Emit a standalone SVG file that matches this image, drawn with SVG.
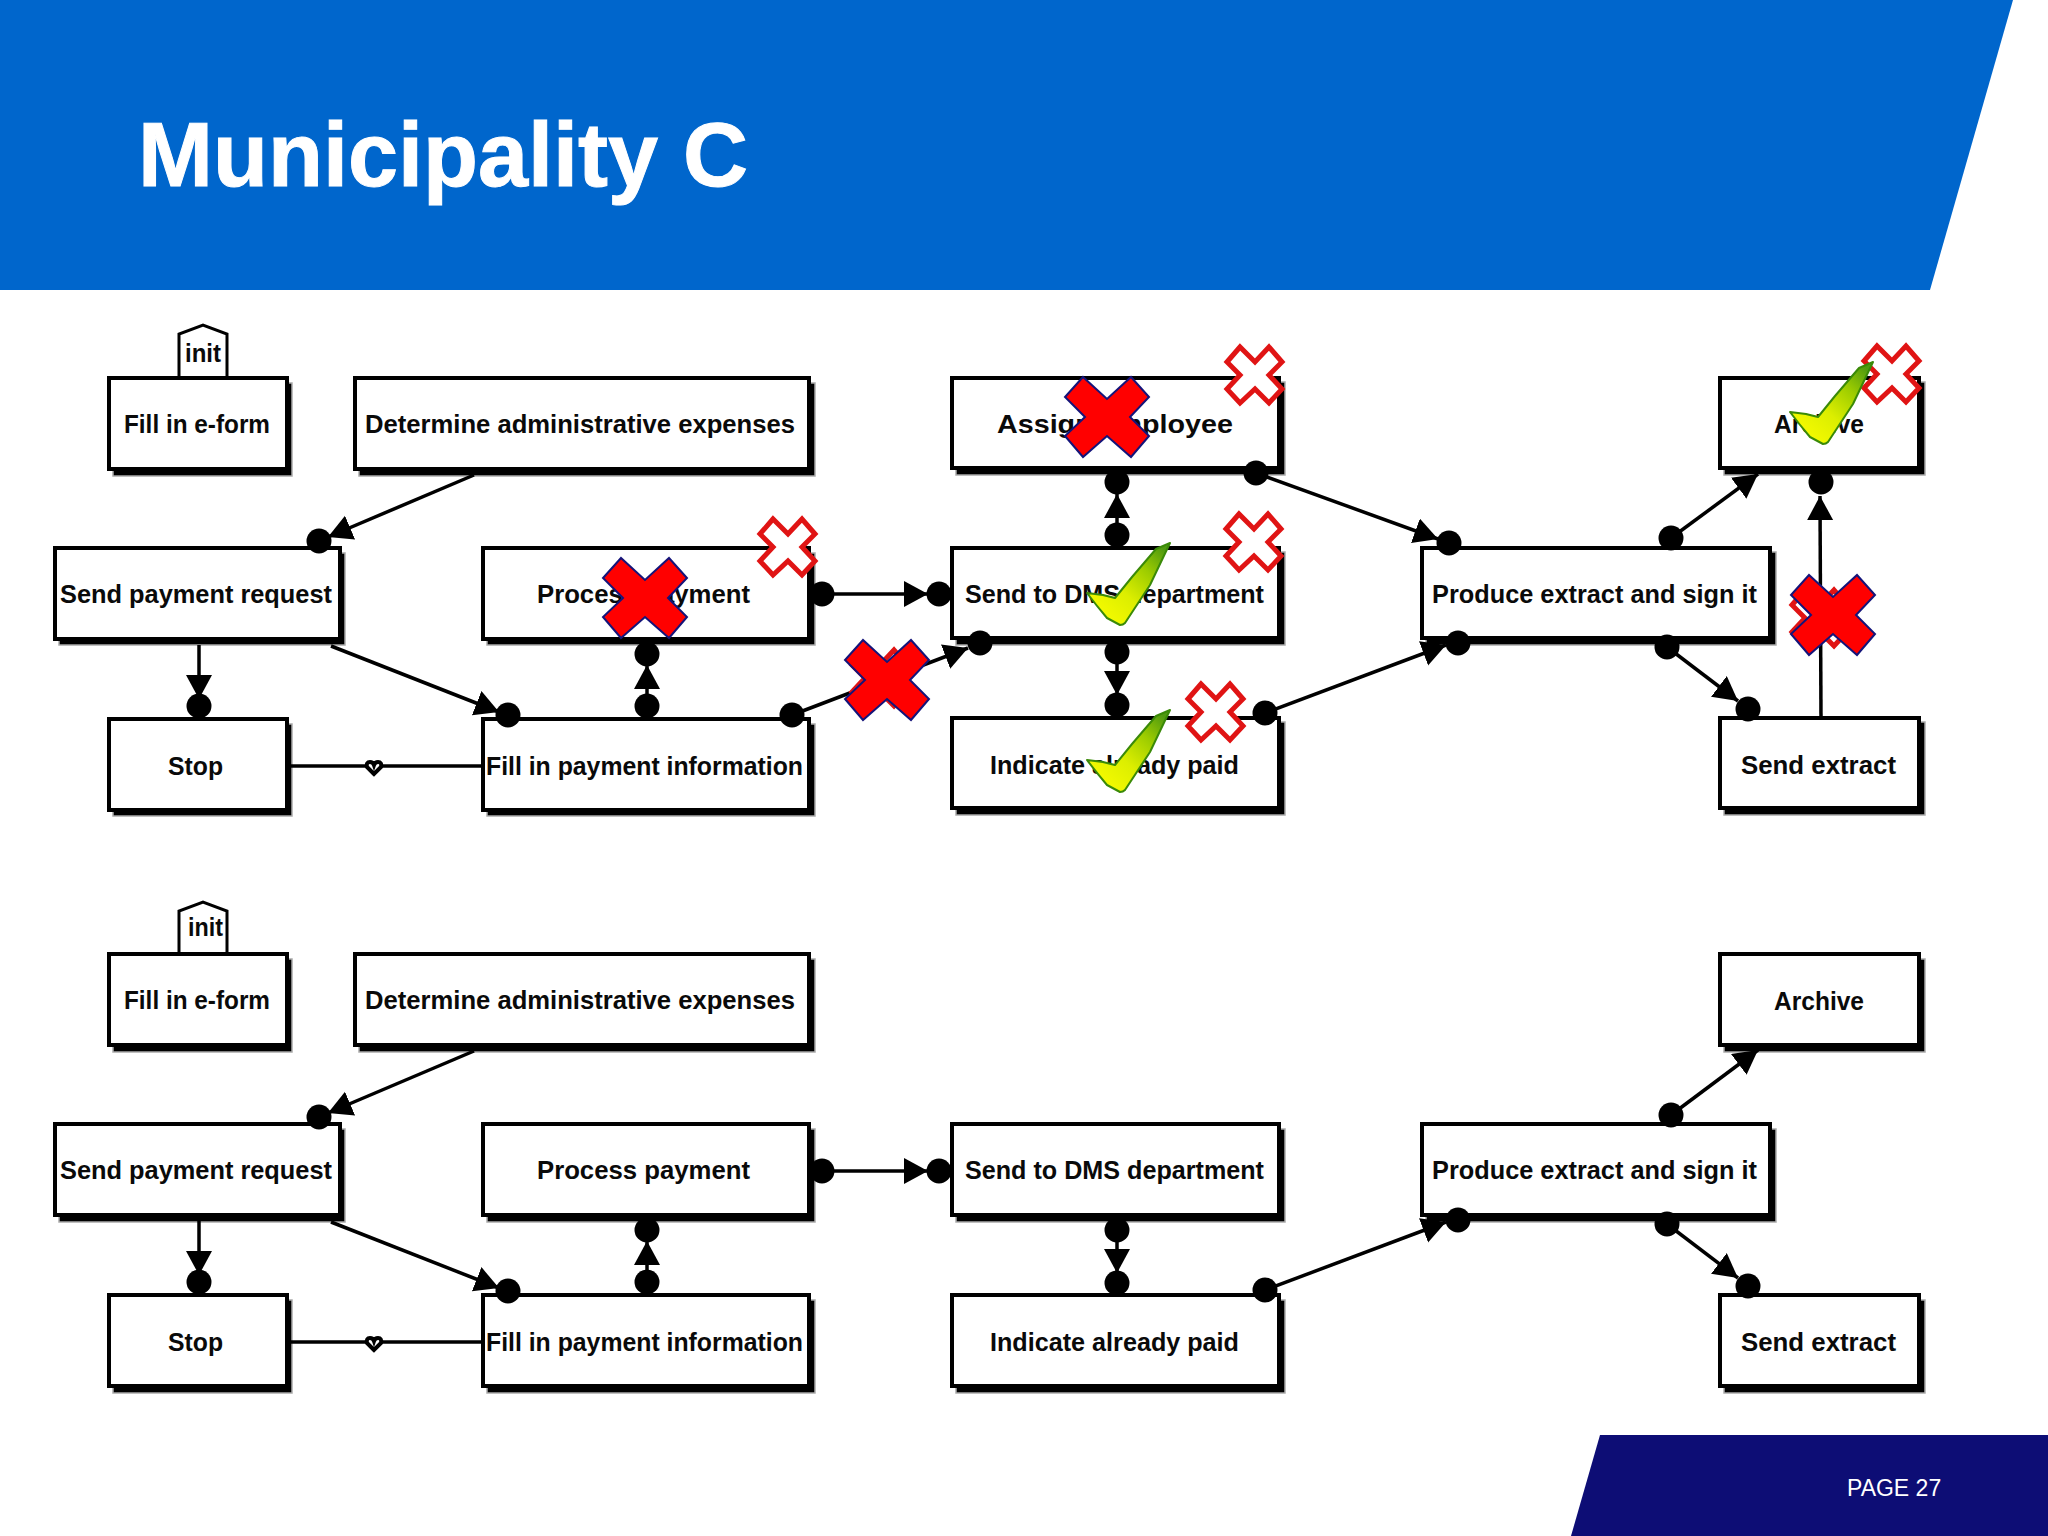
<svg xmlns="http://www.w3.org/2000/svg" xmlns:xlink="http://www.w3.org/1999/xlink" width="2048" height="1536" viewBox="0 0 2048 1536">
<style>
.box{fill:#fff;stroke:#000;stroke-width:4}
.sh{fill:#000;stroke:#aaa;stroke-width:1.5}
.lb{font-family:"Liberation Sans",Arial,sans-serif;font-weight:700;font-size:26px;fill:#0a0a0a}
.in{font-size:25px}
.tag{fill:#fff;stroke:#000;stroke-width:3}
.ln{fill:none;stroke:#000;stroke-width:3.5}
.ar{marker-end:url(#arrow)}
.dot{fill:#000}
.hrt{fill:#fff;stroke:#000;stroke-width:4}
.xr{fill:#f00;stroke:#14147a;stroke-width:2;stroke-linejoin:miter}
.xo{fill:#fff;stroke:#e01414;stroke-width:5}
</style>
<defs>
<marker id="arrow" markerUnits="userSpaceOnUse" markerWidth="26" markerHeight="28" refX="24" refY="13" orient="auto"><path d="M0,0L24,13L0,26Z" fill="#000"/></marker>
<polygon id="bigx" points="-24,-40 -42,-20 -22,0 -42,19 -24,40 0,19 24,40 42,19 23,0 42,-20 24,-40 0,-18"/>
<polygon id="holx" points="-15,-28 -28,-13 -15,0 -28,14 -15,28 0,14 14,28 27,14 14,0 27,-13 14,-28 0,-13"/>
<linearGradient id="chk" x1="0.15" y1="0.85" x2="0.9" y2="0.05"><stop offset="0" stop-color="#f4fa00"/><stop offset="0.35" stop-color="#dcee00"/><stop offset="0.7" stop-color="#9ccc00"/><stop offset="1" stop-color="#4f9a10"/></linearGradient>
<path id="tick" d="M-33,-32L-17,-30L-5,-27L12,-48L36,-76L50,-82L30,-40L5,-2Q3,0 0,0L-13,-7Q-24,-20 -33,-32Z" fill="url(#chk)" stroke="#3a8a08" stroke-width="2" stroke-linejoin="round"/>
</defs>
<rect width="2048" height="1536" fill="#fff"/>
<g id="banner">
<polygon points="0,0 2013,0 1930,290 0,290" fill="#0066cc"/>
<text x="138" y="186" font-family="'Liberation Sans',Arial,sans-serif" font-weight="700" font-size="90" fill="#fff" stroke="#fff" stroke-width="1">Municipality C</text>
</g>
<g id="footer">
<polygon points="1600,1435 2048,1435 2048,1536 1571,1536" fill="#0d0d75"/>
<text x="1847" y="1496" font-family="'Liberation Sans',Arial,sans-serif" font-size="23" fill="#fff">PAGE 27</text>
</g>

<g id="top-nodes">
<g id="t-init"><polygon class="tag" points="179,378 179,334 203,325 227,334 227,378"/><text class="lb in" x="185" y="362" textLength="36" lengthAdjust="spacingAndGlyphs">init</text></g>
<g id="t-fill-eform"><rect class="sh" x="113" y="383" width="179" height="93"/><rect class="box" x="109" y="378" width="178" height="91"/><text class="lb" x="124" y="433" textLength="146" lengthAdjust="spacingAndGlyphs">Fill in e-form</text></g>
<g id="t-determine"><rect class="sh" x="359" y="383" width="456" height="93"/><rect class="box" x="355" y="378" width="454" height="91"/><text class="lb" x="365" y="433" textLength="430" lengthAdjust="spacingAndGlyphs">Determine administrative expenses</text></g>
<g id="t-send-request"><rect class="sh" x="59" y="553" width="286" height="92"/><rect class="box" x="55" y="548" width="285" height="91"/><text class="lb" x="60" y="603" textLength="272" lengthAdjust="spacingAndGlyphs">Send payment request</text></g>
<g id="t-process"><rect class="sh" x="487" y="553" width="328" height="92"/><rect class="box" x="483" y="548" width="326" height="91"/><text class="lb" x="537" y="603" textLength="213" lengthAdjust="spacingAndGlyphs">Process payment</text></g>
<g id="t-stop"><rect class="sh" x="113" y="724" width="179" height="92"/><rect class="box" x="109" y="719" width="178" height="91"/><text class="lb" x="168" y="775" textLength="55" lengthAdjust="spacingAndGlyphs">Stop</text></g>
<g id="t-fill-payment"><rect class="sh" x="487" y="724" width="328" height="92"/><rect class="box" x="483" y="719" width="326" height="91"/><text class="lb" x="486" y="775" textLength="317" lengthAdjust="spacingAndGlyphs">Fill in payment information</text></g>
<g id="t-assign"><rect class="sh" x="956" y="382" width="329" height="93"/><rect class="box" x="952" y="378" width="327" height="90"/><text class="lb" x="997" y="433" textLength="236" lengthAdjust="spacingAndGlyphs">Assign employee</text></g>
<g id="t-dms"><rect class="sh" x="956" y="552" width="329" height="93"/><rect class="box" x="952" y="548" width="327" height="90"/><text class="lb" x="965" y="603" textLength="299" lengthAdjust="spacingAndGlyphs">Send to DMS department</text></g>
<g id="t-indicate"><rect class="sh" x="956" y="722" width="329" height="93"/><rect class="box" x="952" y="718" width="327" height="90"/><text class="lb" x="990" y="774" textLength="249" lengthAdjust="spacingAndGlyphs">Indicate already paid</text></g>
<g id="t-produce"><rect class="sh" x="1426" y="552" width="350" height="93"/><rect class="box" x="1422" y="548" width="348" height="90"/><text class="lb" x="1432" y="603" textLength="325" lengthAdjust="spacingAndGlyphs">Produce extract and sign it</text></g>
<g id="t-archive"><rect class="sh" x="1724" y="382" width="201" height="93"/><rect class="box" x="1720" y="378" width="199" height="90"/><text class="lb" x="1774" y="433" textLength="90" lengthAdjust="spacingAndGlyphs">Archive</text></g>
<g id="t-send-extract"><rect class="sh" x="1724" y="722" width="201" height="93"/><rect class="box" x="1720" y="718" width="199" height="90"/><text class="lb" x="1741" y="774" textLength="155" lengthAdjust="spacingAndGlyphs">Send extract</text></g>
</g>

<g id="bottom-nodes">
<g id="b-init"><polygon class="tag" points="179,954 179,911 203,902 227,911 227,954"/><text class="lb in" x="188" y="936" textLength="35" lengthAdjust="spacingAndGlyphs">init</text></g>
<g id="b-fill-eform"><rect class="sh" x="113" y="959" width="179" height="93"/><rect class="box" x="109" y="954" width="178" height="91"/><text class="lb" x="124" y="1009" textLength="146" lengthAdjust="spacingAndGlyphs">Fill in e-form</text></g>
<g id="b-determine"><rect class="sh" x="359" y="959" width="456" height="93"/><rect class="box" x="355" y="954" width="454" height="91"/><text class="lb" x="365" y="1009" textLength="430" lengthAdjust="spacingAndGlyphs">Determine administrative expenses</text></g>
<g id="b-send-request"><rect class="sh" x="59" y="1129" width="286" height="93"/><rect class="box" x="55" y="1124" width="285" height="91"/><text class="lb" x="60" y="1179" textLength="272" lengthAdjust="spacingAndGlyphs">Send payment request</text></g>
<g id="b-process"><rect class="sh" x="487" y="1129" width="328" height="93"/><rect class="box" x="483" y="1124" width="326" height="91"/><text class="lb" x="537" y="1179" textLength="213" lengthAdjust="spacingAndGlyphs">Process payment</text></g>
<g id="b-stop"><rect class="sh" x="113" y="1300" width="179" height="93"/><rect class="box" x="109" y="1295" width="178" height="91"/><text class="lb" x="168" y="1351" textLength="55" lengthAdjust="spacingAndGlyphs">Stop</text></g>
<g id="b-fill-payment"><rect class="sh" x="487" y="1300" width="328" height="93"/><rect class="box" x="483" y="1295" width="326" height="91"/><text class="lb" x="486" y="1351" textLength="317" lengthAdjust="spacingAndGlyphs">Fill in payment information</text></g>
<g id="b-dms"><rect class="sh" x="956" y="1129" width="329" height="93"/><rect class="box" x="952" y="1124" width="327" height="91"/><text class="lb" x="965" y="1179" textLength="299" lengthAdjust="spacingAndGlyphs">Send to DMS department</text></g>
<g id="b-indicate"><rect class="sh" x="956" y="1300" width="329" height="93"/><rect class="box" x="952" y="1295" width="327" height="91"/><text class="lb" x="990" y="1351" textLength="249" lengthAdjust="spacingAndGlyphs">Indicate already paid</text></g>
<g id="b-produce"><rect class="sh" x="1426" y="1129" width="350" height="93"/><rect class="box" x="1422" y="1124" width="348" height="91"/><text class="lb" x="1432" y="1179" textLength="325" lengthAdjust="spacingAndGlyphs">Produce extract and sign it</text></g>
<g id="b-archive"><rect class="sh" x="1724" y="959" width="201" height="93"/><rect class="box" x="1720" y="954" width="199" height="91"/><text class="lb" x="1774" y="1010" textLength="90" lengthAdjust="spacingAndGlyphs">Archive</text></g>
<g id="b-send-extract"><rect class="sh" x="1724" y="1300" width="201" height="93"/><rect class="box" x="1720" y="1295" width="199" height="91"/><text class="lb" x="1741" y="1351" textLength="155" lengthAdjust="spacingAndGlyphs">Send extract</text></g>
</g>

<g id="connectors">
<path class="ln ar" d="M474,475L328,537"/><circle class="dot" cx="319" cy="541" r="12.5"/>
<path class="ln ar" d="M199,645L199,699"/><circle class="dot" cx="199" cy="706" r="12.5"/>
<path class="ln ar" d="M331,646L499,712"/><circle class="dot" cx="508" cy="715" r="12.5"/>
<circle class="dot" cx="647" cy="654" r="12.5"/><path class="ln ar" d="M647,706L647,665"/><circle class="dot" cx="647" cy="706" r="12.5"/>
<path class="ln" d="M287,766L483,766"/><path class="hrt" d="M374,774L367,767Q366,762 370,762Q373,762 374,765Q375,762 378,762Q382,762 381,767Z"/>
<circle class="dot" cx="792" cy="715" r="12.5"/><path class="ln ar" d="M792,715L968,648"/><circle class="dot" cx="980" cy="643" r="12.5"/>
<circle class="dot" cx="822" cy="594" r="12.5"/><path class="ln ar" d="M822,594L928,594"/><circle class="dot" cx="939" cy="594" r="12.5"/>
<circle class="dot" cx="1117" cy="482" r="12.5"/><path class="ln ar" d="M1117,535L1117,494"/><circle class="dot" cx="1117" cy="535" r="12.5"/>
<circle class="dot" cx="1117" cy="652" r="12.5"/><path class="ln ar" d="M1117,652L1117,695"/><circle class="dot" cx="1117" cy="705" r="12.5"/>
<circle class="dot" cx="1256" cy="473" r="12.5"/><path class="ln ar" d="M1256,473L1438,539"/><circle class="dot" cx="1449" cy="543" r="12.5"/>
<circle class="dot" cx="1265" cy="713" r="12.5"/><path class="ln ar" d="M1265,713L1446,645"/><circle class="dot" cx="1458" cy="643" r="12.5"/>
<circle class="dot" cx="1671" cy="538" r="12.5"/><path class="ln ar" d="M1671,538L1758,474"/>
<circle class="dot" cx="1667" cy="647" r="12.5"/><path class="ln ar" d="M1667,647L1738,701"/><circle class="dot" cx="1748" cy="709" r="12.5"/>
<path class="ln ar" d="M1821,717L1820,496"/><circle class="dot" cx="1821" cy="482" r="12.5"/>

<path class="ln ar" d="M474,1051L328,1113"/><circle class="dot" cx="319" cy="1117" r="12.5"/>
<path class="ln ar" d="M199,1221L199,1275"/><circle class="dot" cx="199" cy="1282" r="12.5"/>
<path class="ln ar" d="M331,1222L499,1288"/><circle class="dot" cx="508" cy="1291" r="12.5"/>
<circle class="dot" cx="647" cy="1230" r="12.5"/><path class="ln ar" d="M647,1282L647,1241"/><circle class="dot" cx="647" cy="1282" r="12.5"/>
<path class="ln" d="M287,1342L483,1342"/><path class="hrt" d="M374,1350L367,1343Q366,1338 370,1338Q373,1338 374,1341Q375,1338 378,1338Q382,1338 381,1343Z"/>
<circle class="dot" cx="822" cy="1171" r="12.5"/><path class="ln ar" d="M822,1171L928,1171"/><circle class="dot" cx="939" cy="1171" r="12.5"/>
<circle class="dot" cx="1117" cy="1230" r="12.5"/><path class="ln ar" d="M1117,1230L1117,1273"/><circle class="dot" cx="1117" cy="1283" r="12.5"/>
<circle class="dot" cx="1265" cy="1290" r="12.5"/><path class="ln ar" d="M1265,1290L1446,1222"/><circle class="dot" cx="1458" cy="1220" r="12.5"/>
<circle class="dot" cx="1671" cy="1115" r="12.5"/><path class="ln ar" d="M1671,1115L1758,1050"/>
<circle class="dot" cx="1667" cy="1224" r="12.5"/><path class="ln ar" d="M1667,1224L1738,1278"/><circle class="dot" cx="1748" cy="1286" r="12.5"/>
</g>

<g id="marks">
<use href="#holx" class="xo" x="788" y="547"/>
<use href="#holx" class="xo" x="1255" y="375"/>
<use href="#holx" class="xo" x="1254" y="542"/>
<use href="#holx" class="xo" x="1216" y="712"/>
<use href="#holx" class="xo" x="1892" y="374"/>
<use href="#holx" class="xo" x="880" y="678"/>
<use href="#holx" class="xo" x="1820" y="618"/>
<use href="#bigx" class="xr" x="645" y="598"/>
<use href="#bigx" class="xr" x="1107" y="417"/>
<use href="#bigx" class="xr" x="887" y="680"/>
<use href="#bigx" class="xr" x="1833" y="615"/>
<use href="#tick" x="1120" y="625"/>
<use href="#tick" x="1120" y="792"/>
<use href="#tick" x="1823" y="444"/>
</g>
</svg>
